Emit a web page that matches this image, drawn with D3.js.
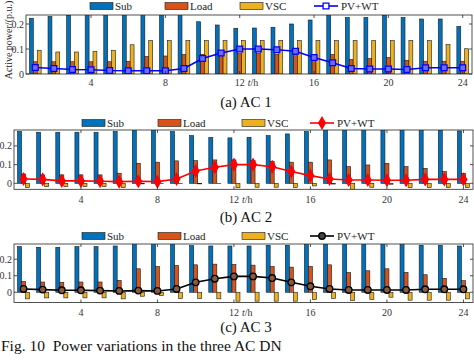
<!DOCTYPE html>
<html><head><meta charset="utf-8">
<script src="https://cdn.jsdelivr.net/npm/d3@7"></script>
<style>body{margin:0;background:#fff} svg{display:block} text{font-family:"Liberation Serif","Times New Roman",serif}</style>
</head><body><svg id="c" width="474" height="361"></svg>
<script>
// ---------- data ----------
const hours = d3.range(1, 25);
const xTicks = [4, 8, 12, 16, 20, 24];
const yTicks = [0, 0.1, 0.2];
const seriesNames = ["Sub", "Load", "VSC", "PV+WT"];
const captions = ["(a) AC 1", "(b) AC 2", "(c) AC 3"];
const figCaption = "Fig. 10  Power variations in the three AC DN";

// AC 1
const sub1  = [0.223,0.230,0.236,0.240,0.240,0.240,0.240,0.240,0.240,0.209,0.196,0.183,0.184,0.187,0.200,0.216,0.240,0.226,0.226,0.235,0.226,0.220,0.220,0.190];
const load1 = [0.049,0.049,0.049,0.049,0.049,0.051,0.070,0.072,0.078,0.079,0.088,0.082,0.082,0.079,0.079,0.068,0.078,0.058,0.062,0.066,0.055,0.051,0.051,0.051];
const vsc1  = [0.095,0.088,0.088,0.091,0.095,0.117,0.134,0.134,0.134,0.134,0.134,0.134,0.134,0.134,0.134,0.134,0.134,0.134,0.134,0.134,0.134,0.134,0.118,0.101];
const pv1   = [0.026,0.022,0.018,0.017,0.014,0.013,0.013,0.013,0.022,0.062,0.084,0.100,0.100,0.097,0.091,0.066,0.045,0.022,0.020,0.020,0.018,0.025,0.025,0.025];

// AC 2
const sub2  = [0.277,0.273,0.273,0.273,0.273,0.277,0.300,0.300,0.277,0.255,0.245,0.243,0.246,0.255,0.264,0.277,0.300,0.300,0.300,0.290,0.300,0.300,0.286,0.280];
const load2 = [0.050,0.045,0.045,0.045,0.045,0.054,0.107,0.113,0.120,0.121,0.125,0.125,0.121,0.116,0.113,0.113,0.125,0.089,0.098,0.107,0.089,0.080,0.063,0.054];
const vsc2  = [-0.023,-0.018,-0.018,-0.018,-0.018,-0.023,-0.003,-0.002,-0.002,-0.003,-0.002,-0.024,-0.021,-0.021,-0.023,-0.014,-0.004,-0.032,-0.021,-0.005,-0.023,-0.023,-0.023,-0.023];
const pv2   = [0.023,0.021,0.013,0.013,0.011,0.009,0.011,0.009,0.023,0.066,0.086,0.100,0.100,0.089,0.063,0.041,0.023,0.018,0.018,0.016,0.016,0.021,0.021,0.021];

// AC 3
const sub3  = [0.276,0.272,0.272,0.276,0.276,0.280,0.300,0.300,0.300,0.282,0.280,0.280,0.280,0.284,0.284,0.288,0.300,0.300,0.300,0.300,0.288,0.284,0.284,0.280];
const load3 = [0.066,0.062,0.060,0.062,0.062,0.072,0.142,0.156,0.162,0.166,0.170,0.168,0.164,0.156,0.152,0.156,0.166,0.120,0.130,0.142,0.120,0.106,0.084,0.070];
const vsc3  = [-0.040,-0.034,-0.034,-0.034,-0.034,-0.040,-0.024,-0.020,-0.038,-0.038,-0.040,-0.054,-0.054,-0.054,-0.054,-0.044,-0.038,-0.050,-0.044,-0.030,-0.048,-0.048,-0.048,-0.040];
const pv3   = [0.020,0.016,0.012,0.012,0.010,0.008,0.010,0.008,0.020,0.060,0.082,0.096,0.096,0.086,0.060,0.036,0.020,0.014,0.014,0.014,0.014,0.018,0.018,0.018];

// ---------- style ----------
const barColors = ["#0072BD", "#D95319", "#EDB120"];
const svg = d3.select("#c");

const panels = [
  {sub: sub1, load: load1, vsc: vsc1, pv: pv1, caption: captions[0],
   left: 26, right: 472, top: 15, bottom: 74, yMin: 0, yMax: 0.236,
   legendY: 6, legendX: [90, 165, 240, 314], tickY: 86, capY: 107,
   lineColor: "#0000ff", marker: "square", ylabel: true},
  {sub: sub2, load: load2, vsc: vsc2, pv: pv2, caption: captions[1],
   left: 14, right: 473, top: 130, bottom: 189.3, yMin: -0.032, yMax: 0.285,
   legendY: 123, legendX: [82, 158, 242, 310], tickY: 203, capY: 222,
   lineColor: "#ff0000", marker: "diamond", ylabel: false},
  {sub: sub3, load: load3, vsc: vsc3, pv: pv3, caption: captions[2],
   left: 14, right: 473, top: 244, bottom: 302.5, yMin: -0.062, yMax: 0.292,
   legendY: 236, legendX: [82, 158, 242, 310], tickY: 316, capY: 332,
   lineColor: "#000000", marker: "circle", ylabel: false}
];

panels.forEach((p, pi) => {
  const x = d3.scaleLinear().domain([0.5, 24.5]).range([p.left, p.right]);
  const y = d3.scaleLinear().domain([p.yMin, p.yMax]).range([p.bottom, p.top]);
  const step = x(2) - x(1);
  const bw = step * 0.21;
  const g = svg.append("g");

  const clipId = "clip" + pi;
  g.append("clipPath").attr("id", clipId).append("rect")
    .attr("x", p.left).attr("y", p.top).attr("width", p.right - p.left).attr("height", p.bottom - p.top);

  const plot = g.append("g").attr("clip-path", `url(#${clipId})`);
  const series = [p.sub, p.load, p.vsc];
  series.forEach((vals, si) => {
    plot.selectAll(null).data(hours).enter().append("rect")
      .attr("x", d => x(d) + (si - 1) * bw - bw / 2)
      .attr("width", bw)
      .attr("y", (d, i) => y(Math.max(0, vals[i])))
      .attr("height", (d, i) => Math.abs(y(vals[i]) - y(0)))
      .attr("fill", barColors[si])
      .attr("stroke", "#1a1a1a").attr("stroke-width", 0.6);
  });

  // line
  const line = d3.line().x(d => x(d)).y((d, i) => y(p.pv[i]));
  plot.append("path").datum(hours).attr("d", line)
    .attr("fill", "none").attr("stroke", p.lineColor).attr("stroke-width", 1.6);
  const symType = p.marker === "square" ? d3.symbolSquare : p.marker === "diamond" ? d3.symbolDiamond : d3.symbolCircle;
  const sym = d3.symbol().type(symType).size(p.marker === "diamond" ? 38 : 34);
  plot.selectAll(null).data(hours).enter().append("path")
    .attr("d", sym)
    .attr("transform", (d, i) => `translate(${x(d)},${y(p.pv[i])})`)
    .attr("fill", p.marker === "diamond" ? p.lineColor : (p.marker === "square" ? "#6f6fff" : "#8a5a40"))
    .attr("stroke", p.lineColor).attr("stroke-width", 1.3);

  // frame
  g.append("rect").attr("x", p.left).attr("y", p.top)
    .attr("width", p.right - p.left).attr("height", p.bottom - p.top)
    .attr("fill", "none").attr("stroke", "#262626").attr("stroke-width", 0.8);

  // x ticks (bottom and top, inward)
  xTicks.forEach(t => {
    g.append("line").attr("x1", x(t)).attr("x2", x(t)).attr("y1", p.bottom).attr("y2", p.bottom - 3)
      .attr("stroke", "#262626").attr("stroke-width", 0.8);
    g.append("line").attr("x1", x(t)).attr("x2", x(t)).attr("y1", p.top).attr("y2", p.top + 3)
      .attr("stroke", "#262626").attr("stroke-width", 0.8);
    g.append("text").attr("x", x(t)).attr("y", p.tickY).attr("text-anchor", "middle")
      .attr("font-size", 10).attr("fill", "#333").text(t);
  });
  // t/h label
  const th = g.append("text").attr("x", x(12) + 8).attr("y", p.tickY).attr("font-size", 10).attr("fill", "#333");
  th.append("tspan").attr("font-style", "italic").text("t");
  th.append("tspan").text("/h");

  // y ticks (left and right, inward)
  yTicks.forEach(t => {
    g.append("line").attr("x1", p.left).attr("x2", p.left + 3).attr("y1", y(t)).attr("y2", y(t))
      .attr("stroke", "#262626").attr("stroke-width", 0.8);
    g.append("line").attr("x1", p.right).attr("x2", p.right - 3).attr("y1", y(t)).attr("y2", y(t))
      .attr("stroke", "#262626").attr("stroke-width", 0.8);
    g.append("text").attr("x", p.left - 2).attr("y", y(t) + 3.5).attr("text-anchor", "end")
      .attr("font-size", 10).attr("fill", "#333").text(t === 0 ? "0" : t.toFixed(1));
  });

  if (p.ylabel) {
    g.append("text").attr("transform", `translate(12,40) rotate(-90)`)
      .attr("text-anchor", "middle").attr("font-size", 10).attr("fill", "#222").text("Active power/(p.u.)");
  }

  // legend
  [0, 1, 2].forEach(i => {
    g.append("rect").attr("x", p.legendX[i]).attr("y", p.legendY - 3.5).attr("width", 23).attr("height", 7)
      .attr("fill", barColors[i]).attr("stroke", "#1a1a1a").attr("stroke-width", 0.6);
    g.append("text").attr("x", p.legendX[i] + 25).attr("y", p.legendY + 4)
      .attr("font-size", 11).attr("fill", "#222").text(seriesNames[i]);
  });
  const lx = p.legendX[3];
  g.append("line").attr("x1", lx).attr("x2", lx + 24).attr("y1", p.legendY).attr("y2", p.legendY)
    .attr("stroke", p.lineColor).attr("stroke-width", 1.6);
  g.append("path").attr("d", sym).attr("transform", `translate(${lx + 12},${p.legendY})`)
    .attr("fill", p.marker === "diamond" ? p.lineColor : (p.marker === "square" ? "#fff" : "#444"))
    .attr("stroke", p.lineColor).attr("stroke-width", 1.3);
  g.append("text").attr("x", lx + 27).attr("y", p.legendY + 4)
    .attr("font-size", 11).attr("fill", "#222").text(seriesNames[3]);

  // caption
  g.append("text").attr("x", 246).attr("y", p.capY).attr("text-anchor", "middle")
    .attr("font-size", 15).attr("fill", "#111").text(p.caption);
});

svg.append("text").attr("x", 1).attr("y", 351).attr("font-size", 15.5).attr("fill", "#111")
  .style("white-space", "pre").text(figCaption);
</script></body></html>
